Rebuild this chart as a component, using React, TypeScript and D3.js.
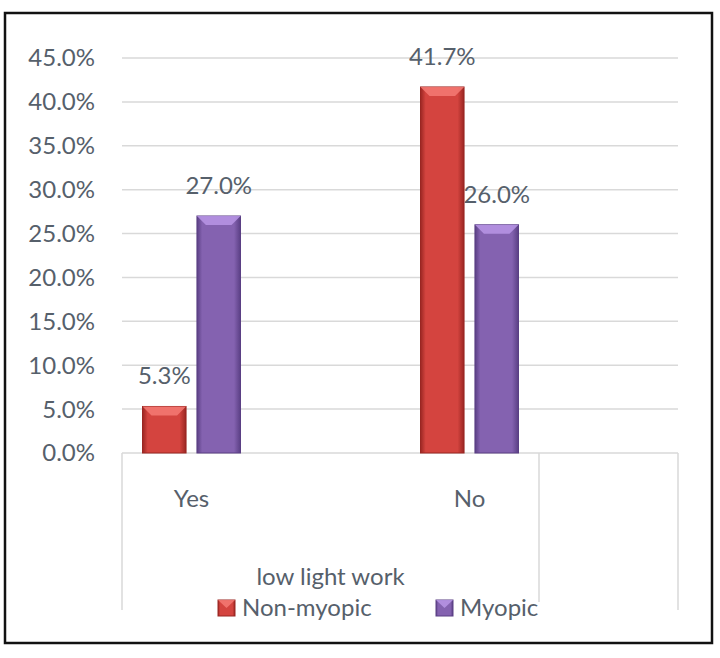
import React, { useEffect, useRef } from "react";
import * as d3 from "d3";

// axis categories (Excel multi-level axis: 4 slots, two of them empty)
const categories = ["Yes", "", "No", ""];
const groupLabels = ["low light work", ""];
const groupSpans = [
  [0, 3],
  [3, 4],
];
const seriesNames = ["Non-myopic", "Myopic"];
const nonMyopic = [5.3, null, 41.7, null];
const myopic = [27.0, null, 26.0, null];
const yTicks = [0, 5, 10, 15, 20, 25, 30, 35, 40, 45];

const colors = [
  { mid: "#d4443f", edge: "#9a2622", top: "#f47a74" },
  { mid: "#8462b0", edge: "#5a3f84", top: "#b996e6" },
];

export default function App() {
  const ref = useRef<HTMLDivElement>(null);

  useEffect(() => {
    const root = d3.select(ref.current);
    root.selectAll("*").remove();
    const width = 720;
    const height = 658;
    const font = "Lato, 'Open Sans', sans-serif";
    const textColor = "#56606b";

    const svg = root
      .append("svg")
      .attr("width", width)
      .attr("height", height)
      .style("display", "block")
      .style("background", "#fff");

    const defs = svg.append("defs");
    colors.forEach((c, i) => {
      const g = defs
        .append("linearGradient")
        .attr("id", `grad${i}`)
        .attr("x1", 0)
        .attr("x2", 1)
        .attr("y1", 0)
        .attr("y2", 0);
      g.append("stop").attr("offset", "0%").attr("stop-color", c.edge);
      g.append("stop").attr("offset", "12%").attr("stop-color", c.mid);
      g.append("stop").attr("offset", "85%").attr("stop-color", c.mid);
      g.append("stop").attr("offset", "100%").attr("stop-color", c.edge);
    });

    // outer frame
    svg
      .append("rect")
      .attr("x", 5)
      .attr("y", 13)
      .attr("width", 707)
      .attr("height", 630)
      .attr("fill", "none")
      .attr("stroke", "#111")
      .attr("stroke-width", 2.5);

    const left = 122;
    const right = 678;
    const y = d3.scaleLinear().domain([0, 45]).range([453, 58]);

    const x0 = d3
      .scaleBand<number>()
      .domain(d3.range(categories.length))
      .range([left, right]);
    const groupW = 98;
    const x1 = d3
      .scaleBand<string>()
      .domain(seriesNames)
      .range([0, groupW])
      .paddingInner(0.2);

    // gridlines + tick labels
    svg
      .append("g")
      .selectAll("line")
      .data(yTicks.filter((t) => t > 0))
      .enter()
      .append("line")
      .attr("x1", left)
      .attr("x2", right)
      .attr("y1", (d) => y(d))
      .attr("y2", (d) => y(d))
      .attr("stroke", "#d9d9d9")
      .attr("stroke-width", 1.5);

    svg
      .append("g")
      .selectAll("text")
      .data(yTicks)
      .enter()
      .append("text")
      .attr("x", 95)
      .attr("y", (d) => y(d))
      .attr("dy", "0.35em")
      .attr("text-anchor", "end")
      .style("font-family", font)
      .style("font-size", "24px")
      .style("fill", textColor)
      .text((d) => d.toFixed(1) + "%");

    // category axis line and group separators
    const axis = svg.append("g").attr("stroke", "#d9d9d9").attr("stroke-width", 1.5);
    axis
      .append("line")
      .attr("x1", left)
      .attr("x2", right)
      .attr("y1", y(0))
      .attr("y2", y(0));
    const sepX = [left, x0(3) as number, right];
    const sepBottom = [610, 602, 610];
    sepX.forEach((sx, i) => {
      axis
        .append("line")
        .attr("x1", sx)
        .attr("x2", sx)
        .attr("y1", y(0))
        .attr("y2", sepBottom[i]);
    });

    // bars
    const values = [nonMyopic, myopic];
    const barG = svg.append("g");
    values.forEach((vals, si) => {
      vals.forEach((v, ci) => {
        if (v == null) return;
        const bx =
          (x0(ci) as number) +
          (x0.bandwidth() - groupW) / 2 +
          (x1(seriesNames[si]) as number);
        const bw = x1.bandwidth();
        const by = y(v);
        const bh = y(0) - by;
        barG
          .append("rect")
          .attr("x", bx)
          .attr("y", by)
          .attr("width", bw)
          .attr("height", bh)
          .attr("fill", `url(#grad${si})`)
          .attr("stroke", colors[si].edge)
          .attr("stroke-width", 1);
        const bev = Math.min(9, bh / 2);
        barG
          .append("polygon")
          .attr(
            "points",
            [
              [bx, by],
              [bx + bw, by],
              [bx + bw - bev, by + bev],
              [bx + bev, by + bev],
            ]
              .map((p) => p.join(","))
              .join(" ")
          )
          .attr("fill", colors[si].top)
          .attr("opacity", 0.85);
        barG
          .append("text")
          .attr("x", bx + bw / 2)
          .attr("y", by - 22)
          .attr("text-anchor", "middle")
          .style("font-family", font)
          .style("font-size", "24px")
          .style("fill", textColor)
          .text(v.toFixed(1) + "%");
      });
    });

    // category labels
    svg
      .append("g")
      .selectAll("text")
      .data(categories)
      .enter()
      .append("text")
      .attr("x", (d, i) => (x0(i) as number) + x0.bandwidth() / 2)
      .attr("y", 507)
      .attr("text-anchor", "middle")
      .style("font-family", font)
      .style("font-size", "24px")
      .style("fill", textColor)
      .text((d) => d);

    // group labels
    svg
      .append("g")
      .selectAll("text")
      .data(groupLabels)
      .enter()
      .append("text")
      .attr("x", (d, i) => {
        const [a, b] = groupSpans[i];
        const x2 = b >= categories.length ? right : (x0(b) as number);
        return ((x0(a) as number) + x2) / 2;
      })
      .attr("y", 585)
      .attr("text-anchor", "middle")
      .style("font-family", font)
      .style("font-size", "24px")
      .style("fill", textColor)
      .text((d) => d);

    // legend
    const legendX = [218, 436];
    seriesNames.forEach((name, i) => {
      const lg = svg.append("g").attr("transform", `translate(${legendX[i]},600)`);
      lg.append("rect")
        .attr("width", 17)
        .attr("height", 16)
        .attr("fill", `url(#grad${i})`)
        .attr("stroke", colors[i].edge);
      lg.append("polygon")
        .attr("points", "0,0 17,0 8.5,8")
        .attr("fill", colors[i].top)
        .attr("opacity", 0.85);
      lg.append("text")
        .attr("x", 24)
        .attr("y", 16)
        .style("font-family", font)
        .style("font-size", "24px")
        .style("fill", textColor)
        .text(name);
    });
  }, []);

  return (
    <>
      <style>{`body{margin:0}`}</style>
      <div ref={ref}></div>
    </>
  );
}
